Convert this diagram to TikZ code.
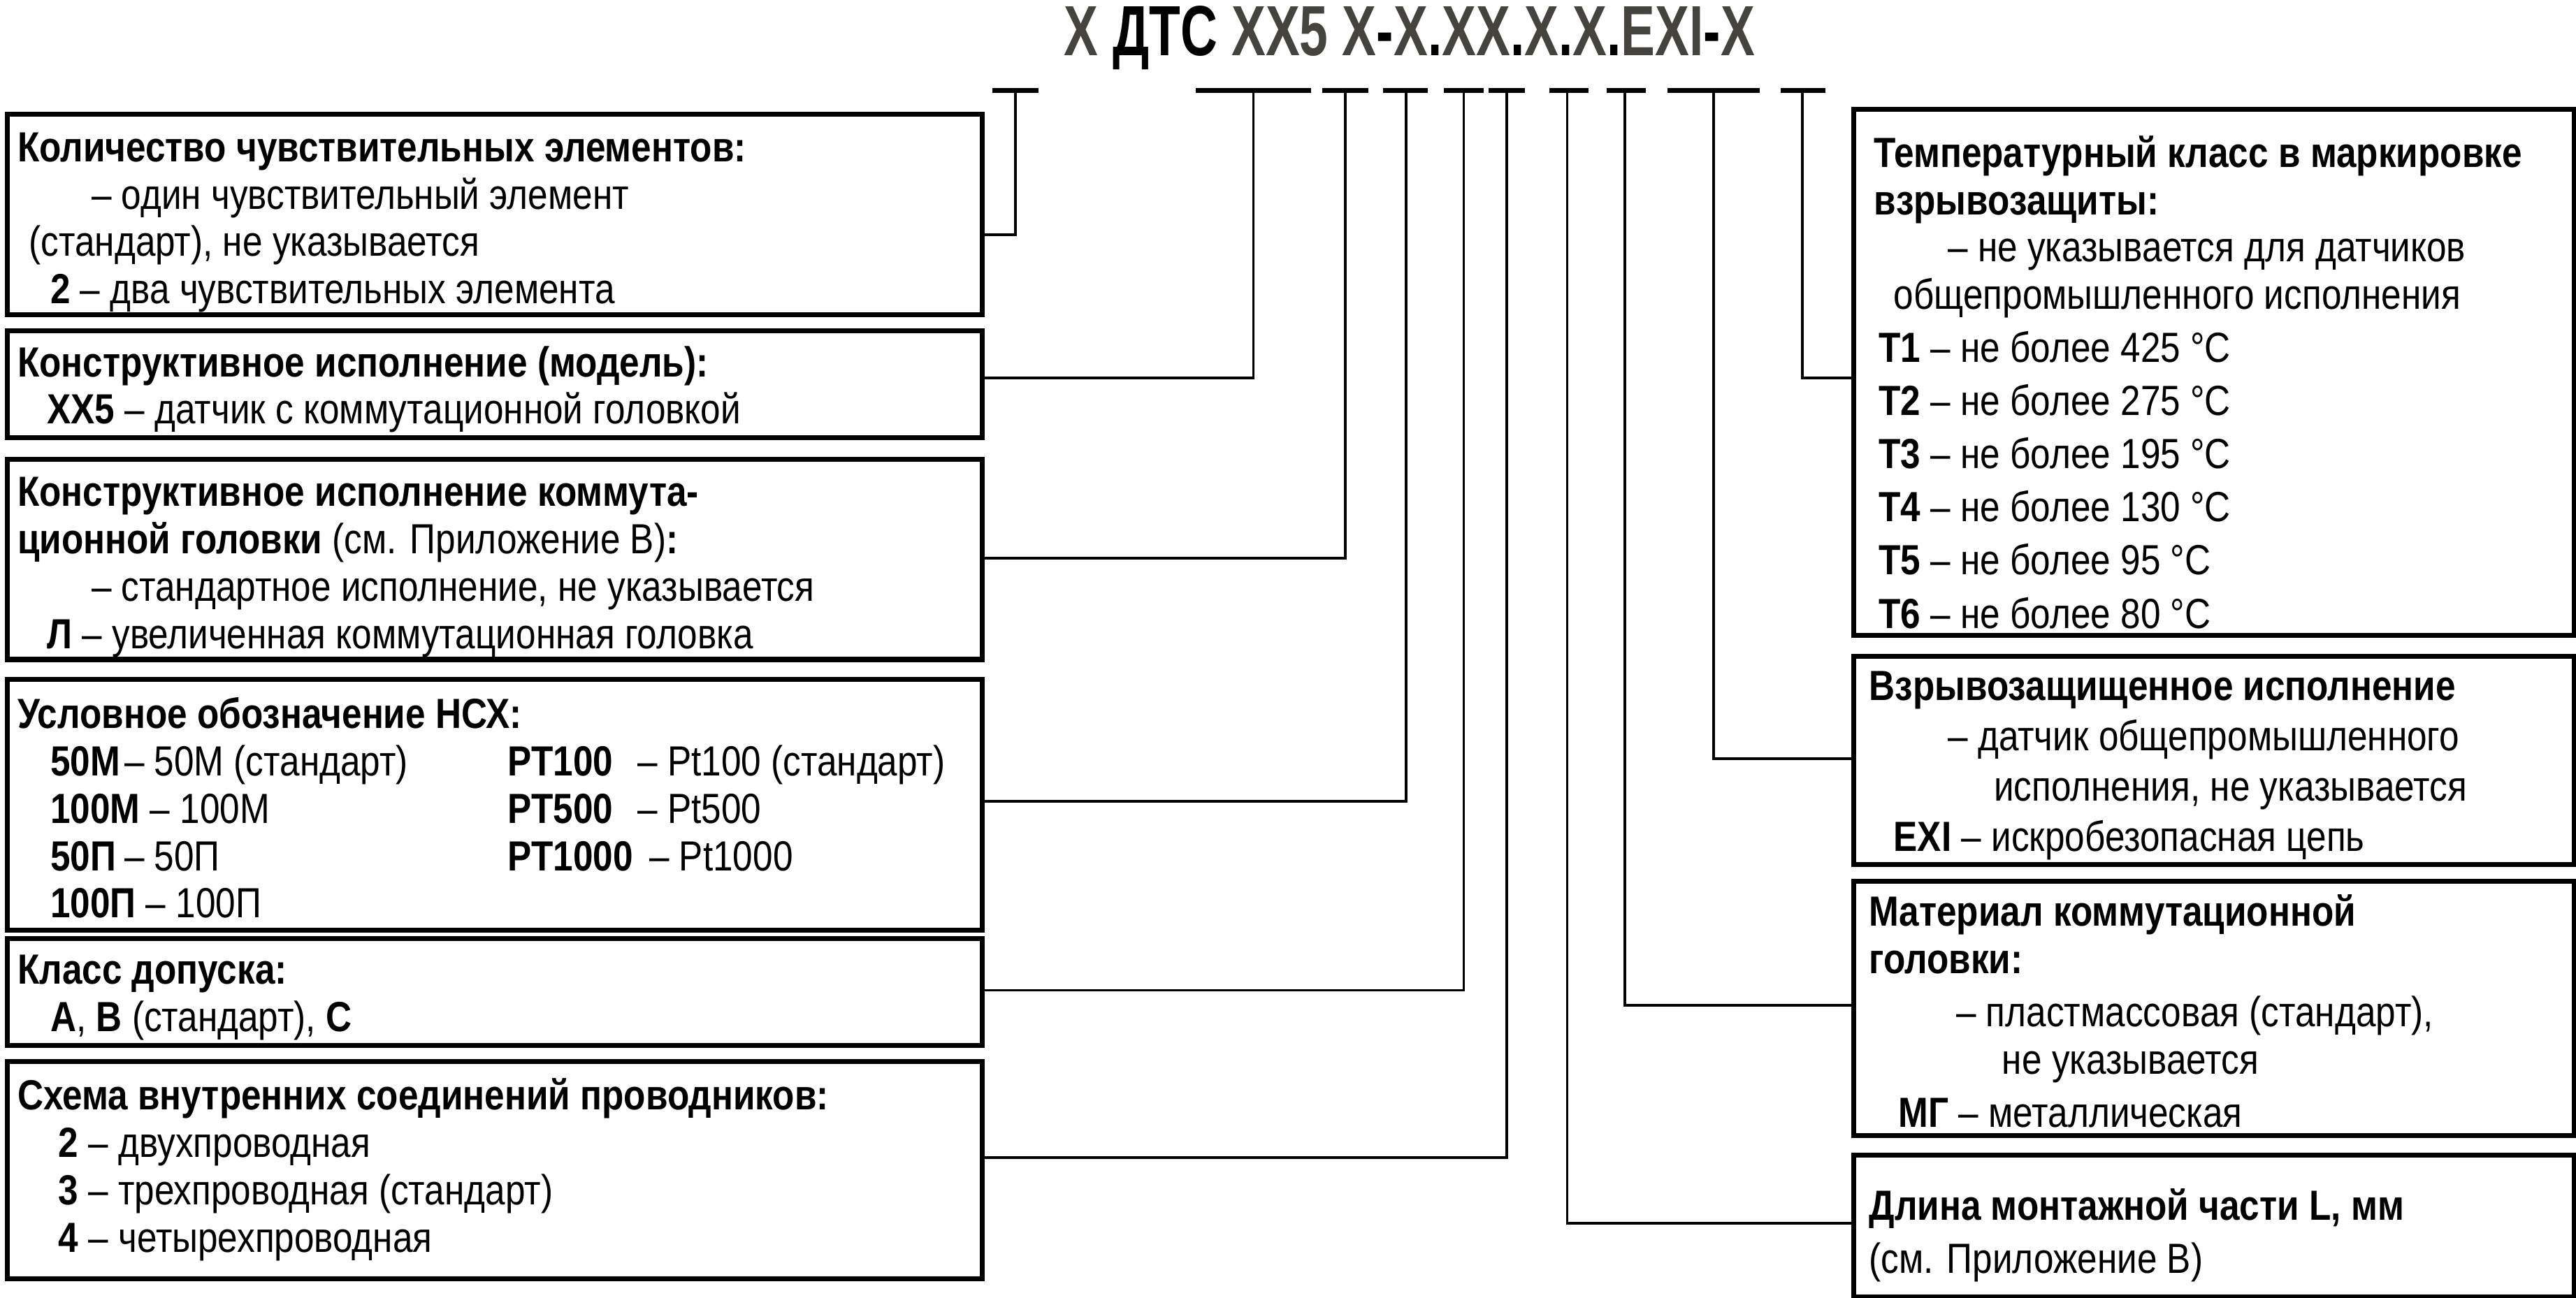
\documentclass[tikz,border=0pt]{standalone}
\usepackage{fontspec}
\setmainfont{Liberation Sans}[FakeStretch=0.85]
\newfontfamily\titlefont{Liberation Sans}[FakeStretch=0.72]
\usepackage{tikz}
\usetikzlibrary{positioning}
\definecolor{codegray}{HTML}{45433D}
\newcommand{\txtsize}{\fontsize{7.3}{8.2}\selectfont}

\begin{document}
\begin{tikzpicture}[line cap=butt,line join=miter,x=0.01cm,y=-0.01cm,
  box/.style={draw,line width=0.85pt,anchor=north west,inner sep=0pt},
  txt/.style={anchor=north west,inner sep=0pt,align=left,font=\txtsize},
  tick/.style={line width=0.9pt},
  wire/.style={line width=0.45pt}]
\useasboundingbox (0,0) rectangle (1568,790);

% title code
\node[inner sep=0pt,font=\titlefont\bfseries\fontsize{12.3}{13}\selectfont] (code) at (858,23)
 {\textcolor{codegray}{X} ДТС \textcolor{codegray}{XX5} \textcolor{codegray}{X}-\textcolor{codegray}{X}.\textcolor{codegray}{XX}.\textcolor{codegray}{X}.\textcolor{codegray}{X}.\textcolor{codegray}{EXI}-\textcolor{codegray}{X}};

% ticks under the code
\draw[tick] (604,55) -- (632,55);  \coordinate (t1) at (618,55);
\draw[tick] (728,55) -- (798,55);  \coordinate (t2) at (763,55);
\draw[tick] (805,55) -- (833,55);  \coordinate (t3) at (819,55);
\draw[tick] (842,55) -- (869,55);  \coordinate (t4) at (856,55);
\draw[tick] (879,55) -- (903,55);  \coordinate (t5) at (891,55);
\draw[tick] (906,55) -- (928,55);  \coordinate (t6) at (917,55);
\draw[tick] (943,55) -- (967,55);  \coordinate (t7) at (954,55);
\draw[tick] (978,55) -- (1002,55); \coordinate (t8) at (989,55);
\draw[tick] (1015,55) -- (1071,55);\coordinate (t9) at (1043,55);
\draw[tick] (1084,55) -- (1111,55);\coordinate (t10) at (1097,55);

% left boxes
\node[box,minimum width=5.93cm,minimum height=1.22cm] (L1) at (3,68) {};
\node[box,minimum width=5.93cm,minimum height=0.65cm] (L2) at (3,200) {};
\node[box,minimum width=5.93cm,minimum height=1.22cm] (L3) at (3,278) {};
\node[box,minimum width=5.93cm,minimum height=1.53cm] (L4) at (3,412) {};
\node[box,minimum width=5.93cm,minimum height=0.65cm] (L5) at (3,570) {};
\node[box,minimum width=5.93cm,minimum height=1.32cm] (L6) at (3,645) {};

% right boxes
\node[box,minimum width=4.38cm,minimum height=3.20cm] (R1) at (1127,65) {};
\node[box,minimum width=4.38cm,minimum height=1.27cm] (R2) at (1127,398) {};
\node[box,minimum width=4.38cm,minimum height=1.55cm] (R3) at (1127,535) {};
\node[box,minimum width=4.38cm,minimum height=0.86cm] (R4) at (1127,702) {};

% texts
\node[txt] (L1t) at (10,80) {\textbf{Количество чувствительных элементов:}\\
 \hspace*{4.5mm}– один чувствительный элемент\\
 \hspace*{0.7mm}(стандарт), не указывается\\
 \hspace*{2mm}\textbf{2} – два чувствительных элемента};
\node[txt] (L2t) at (10,210) {\textbf{Конструктивное исполнение (модель):}\\
 \hspace*{1.8mm}\textbf{XX5} – датчик с коммутационной головкой};
\node[txt] (L3t) at (10,290) {\textbf{Конструктивное исполнение коммута-}\\
 \textbf{ционной головки} (см. Приложение В)\textbf{:}\\
 \hspace*{4.5mm}– стандартное исполнение, не указывается\\
 \hspace*{1.8mm}\textbf{Л} – увеличенная коммутационная головка};
\node[txt] (L4t) at (10,424) {\textbf{Условное обозначение НСХ:}\\
 \hspace*{2mm}\makebox[27.8mm][l]{\makebox[4.5mm][l]{\textbf{50М}}– 50М (стандарт)}\textbf{PT100}\hspace*{1.5mm}– Pt100 (стандарт)\\
 \hspace*{2mm}\makebox[27.8mm][l]{\textbf{100М} – 100М}\textbf{PT500}\hspace*{1.5mm}– Pt500\\
 \hspace*{2mm}\makebox[27.8mm][l]{\makebox[4.5mm][l]{\textbf{50П}}– 50П}\textbf{PT1000}\hspace*{1mm}– Pt1000\\
 \hspace*{2mm}\textbf{100П} – 100П};
\node[txt] (L5t) at (10,581) {\textbf{Класс допуска:}\\
 \hspace*{2mm}\textbf{A}, \textbf{B} (стандарт), \textbf{C}};
\node[txt] (L6t) at (10,656) {\textbf{Схема внутренних соединений проводников:}\\
 \hspace*{2.5mm}\textbf{2} – двухпроводная\\
 \hspace*{2.5mm}\textbf{3} – трехпроводная (стандарт)\\
 \hspace*{2.5mm}\textbf{4} – четырехпроводная};
\node[txt] (R1t) at (1140,82) {\textbf{Температурный класс в маркировке}\\
 \textbf{взрывозащиты:}\\
 \hspace*{4.5mm}– не указывается для датчиков\\
 \hspace*{1.2mm}общепромышленного исполнения\\[1pt]
 \hspace*{0.3mm}\textbf{T1} – не более 425 °C\\[1pt]
 \hspace*{0.3mm}\textbf{T2} – не более 275 °C\\[1pt]
 \hspace*{0.3mm}\textbf{T3} – не более 195 °C\\[1pt]
 \hspace*{0.3mm}\textbf{T4} – не более 130 °C\\[1pt]
 \hspace*{0.3mm}\textbf{T5} – не более 95 °C\\[1pt]
 \hspace*{0.3mm}\textbf{T6} – не более 80 °C};
\node[txt] (R2t) at (1137,408) {\textbf{Взрывозащищенное исполнение}\\[0.5pt]
 \hspace*{4.8mm}– датчик общепромышленного\\[0.5pt]
 \hspace*{7.6mm}исполнения, не указывается\\[0.5pt]
 \hspace*{1.5mm}\textbf{EXI} – искробезопасная цепь};
\node[txt] (R3t) at (1137,544) {\textbf{Материал коммутационной}\\
 \textbf{головки:}\\[1pt]
 \hspace*{5.3mm}– пластмассовая (стандарт),\\
 \hspace*{8.1mm}не указывается\\[1pt]
 \hspace*{1.8mm}\textbf{МГ} – металлическая};
\node[txt] (R4t) at (1137,723) {\textbf{Длина монтажной части L, мм}\\[1pt]
 (см. Приложение В)};

% connectors
\draw[wire] (L1.east |- 0,143) -| (t1);
\draw[wire] (L2.east |- 0,230) -| (t2);
\draw[wire] (L3.east |- 0,340) -| (t3);
\draw[wire] (L4.east |- 0,488) -| (t4);
\draw[wire] (L5.east |- 0,603) -| (t5);
\draw[wire] (L6.east |- 0,705) -| (t6);
\draw[wire] (R1.west |- 0,230) -| (t10);
\draw[wire] (R2.west |- 0,462) -| (t9);
\draw[wire] (R3.west |- 0,612) -| (t8);
\draw[wire] (R4.west |- 0,745) -| (t7);
\end{tikzpicture}
\end{document}
